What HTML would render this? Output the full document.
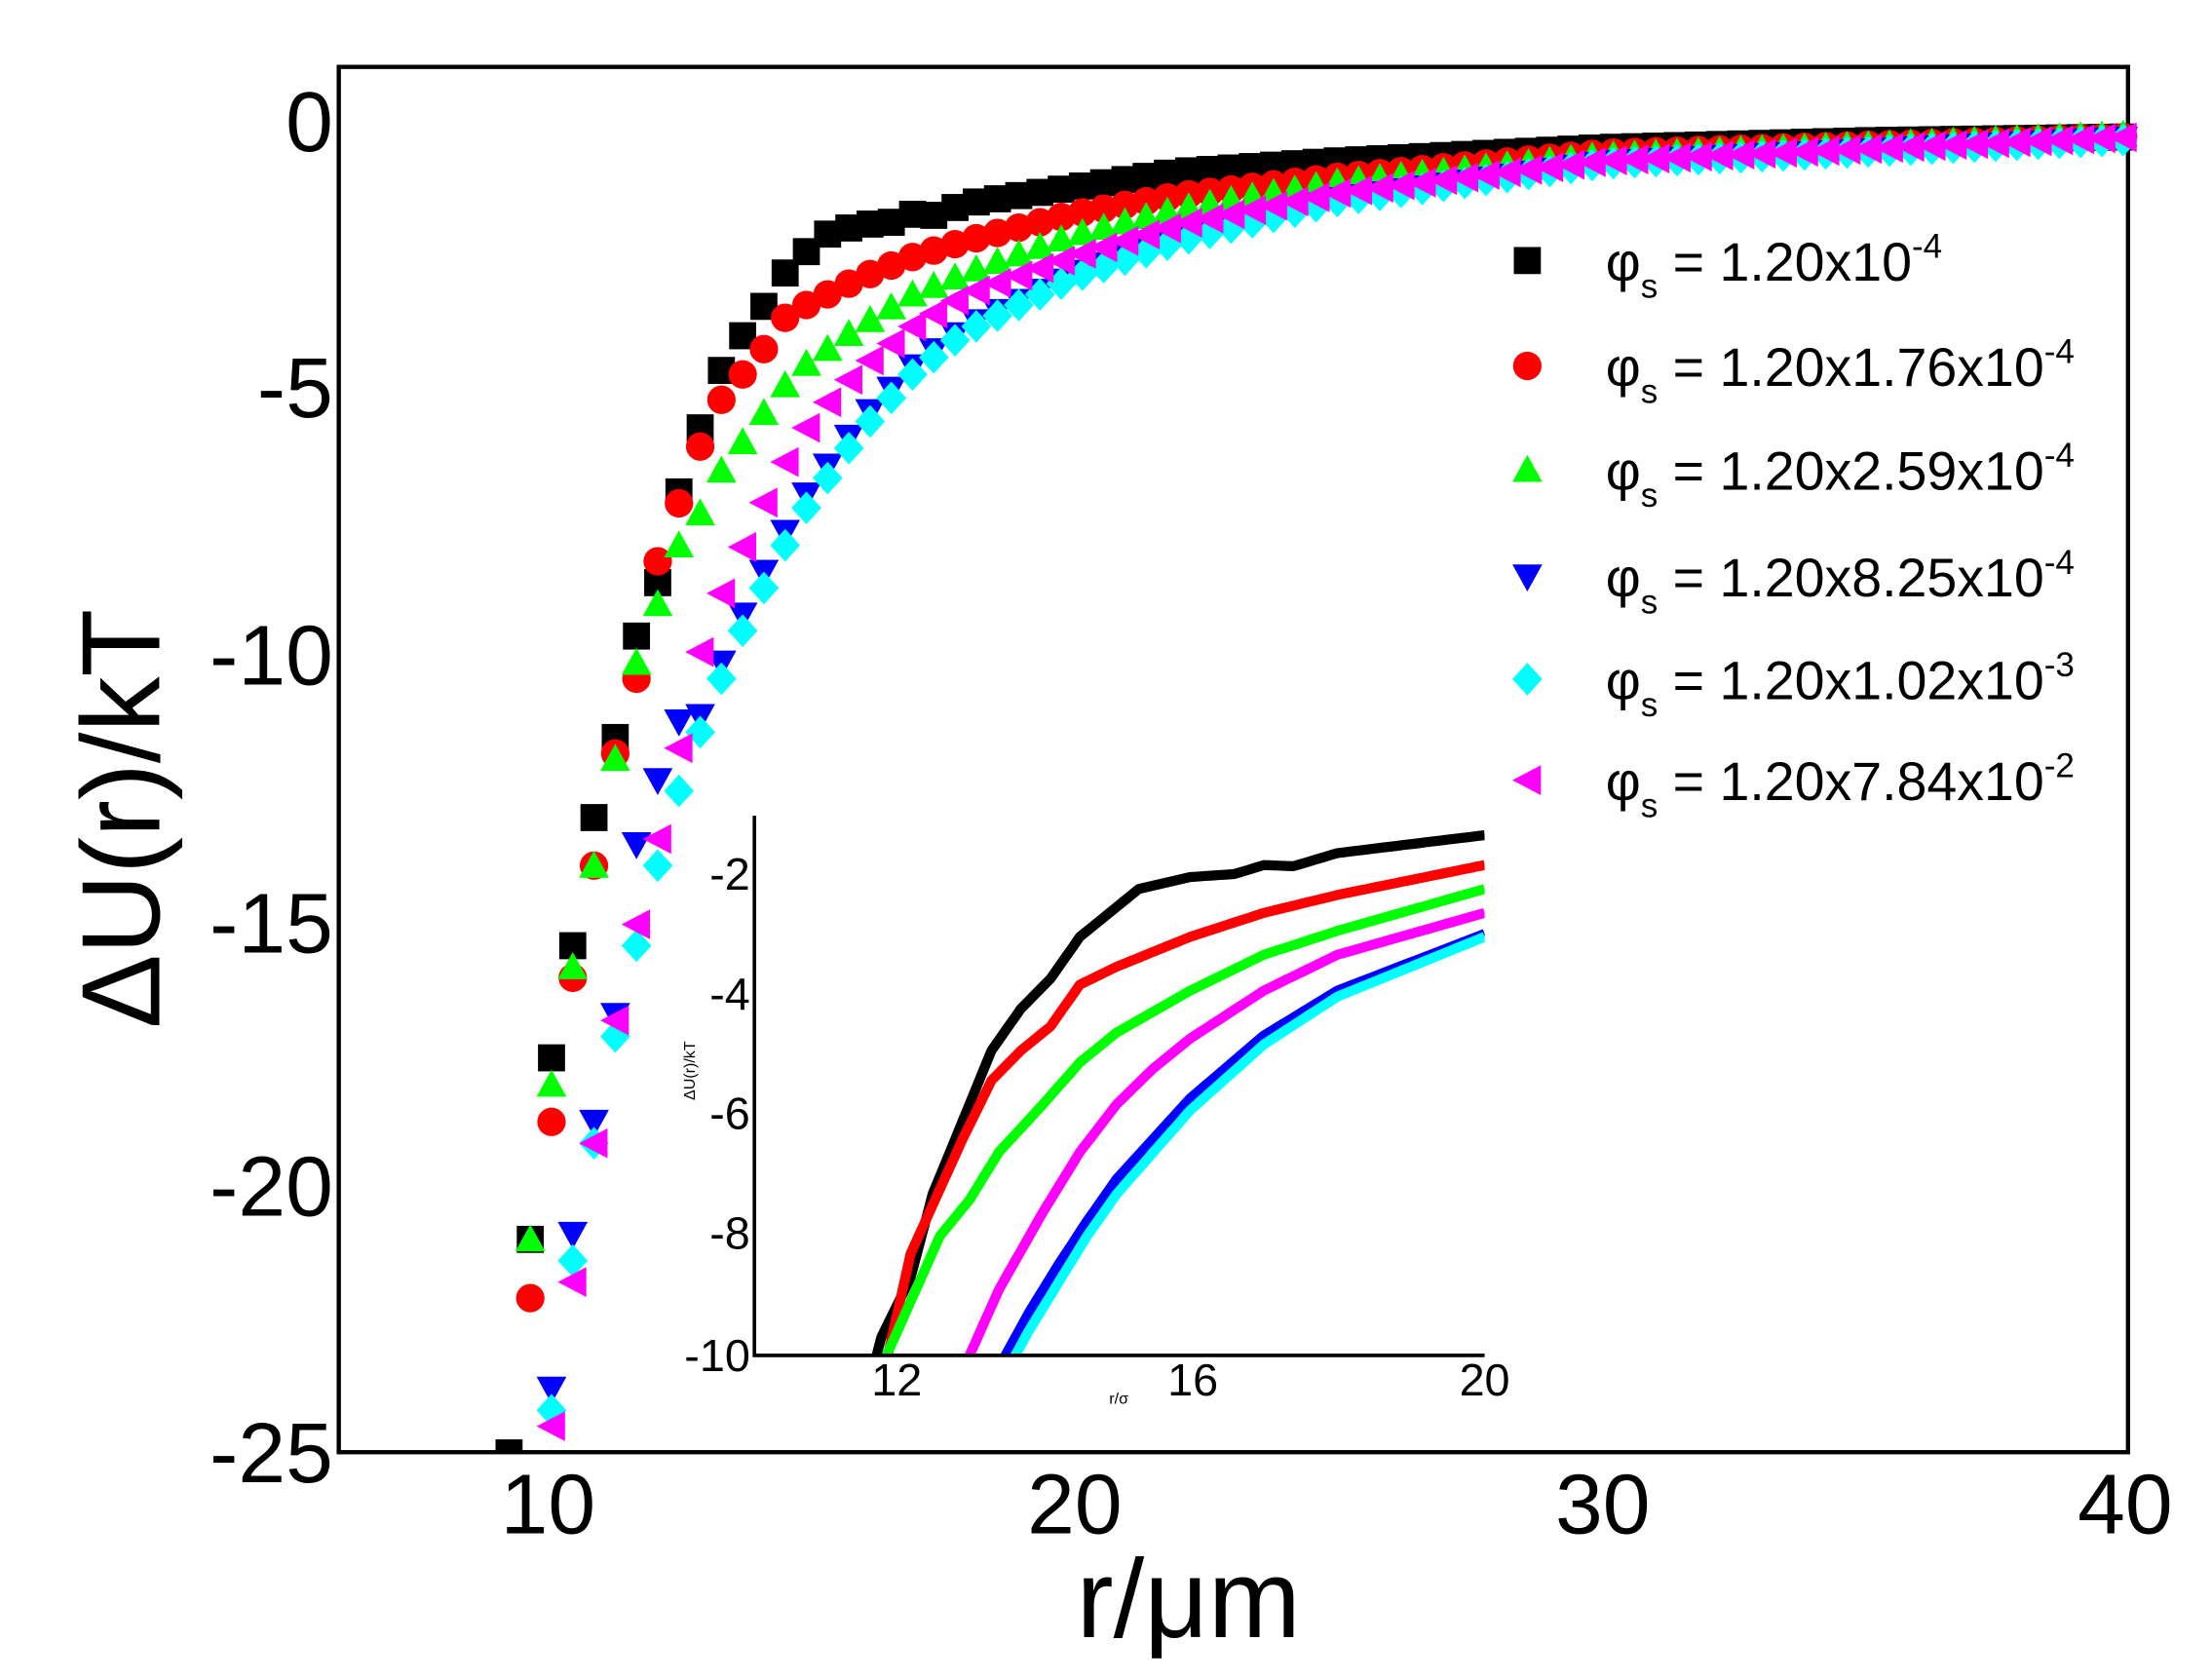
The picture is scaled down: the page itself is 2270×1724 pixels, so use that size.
<!DOCTYPE html>
<html><head><meta charset="utf-8"><style>
html,body{margin:0;padding:0;background:#fff;overflow:hidden;width:2270px;height:1724px}
svg{display:block;position:absolute;left:0;top:0}
text{font-family:"Liberation Sans","DejaVu Sans",sans-serif;fill:#000}
</style></head><body>
<svg id="s" width="2270" height="1724" viewBox="0 0 1554 1180" preserveAspectRatio="none" xmlns="http://www.w3.org/2000/svg">
<defs>
<clipPath id="ci"><rect x="530" y="565" width="513" height="387"/></clipPath>
<clipPath id="cm"><rect x="238" y="47" width="1275" height="973"/></clipPath>
</defs>
<rect x="238" y="47" width="1257" height="973" fill="none" stroke="#000" stroke-width="3"/>
<g font-size="60" text-anchor="end">
<text x="234" y="106">0</text><text x="234" y="293">-5</text><text x="234" y="481">-10</text>
<text x="234" y="669">-15</text><text x="234" y="854">-20</text><text x="234" y="1041">-25</text>
</g>
<g font-size="60" text-anchor="middle">
<text x="385" y="1077">10</text><text x="755" y="1077">20</text><text x="1126" y="1077">30</text><text x="1493" y="1077">40</text>
</g>
<text x="835" y="1150" font-size="78" text-anchor="middle">r/μm</text>
<text transform="translate(112,575) rotate(-90)" font-size="78" text-anchor="middle">ΔU(r)/kT</text>
<g id="main" clip-path="url(#cm)"></g>
<g id="inset"></g>
<g font-size="38" id="leg"></g>
</svg>
<script>
var S={
k:[[9.4,-25],[9.8,-21],[10.2,-17.6],[10.6,-15.5],[11,-13.1],[11.4,-11.6],[11.8,-9.7],[12.2,-8.7],[12.5,-7.3],[12.9,-6.1],[13.3,-4.9],[13.7,-4.2],[14.1,-3.7],[14.5,-3.0],[14.9,-2.6],[15.3,-2.2],[16,-2.0],[16.6,-1.95],[17,-1.8],[17.4,-1.82],[18,-1.6],[19,-1.45],[20,-1.3],[22,-1.0],[25,-0.8],[30,-0.55],[35,-0.42],[40,-0.35]],
r:[[9.8,-22.1],[10.2,-18.8],[10.6,-16.1],[11,-14.0],[11.4,-11.9],[11.8,-10.5],[12.2,-8.3],[12.9,-6.4],[13.3,-5.4],[13.7,-4.9],[14.1,-4.5],[14.5,-3.8],[15,-3.5],[16,-3.0],[17,-2.6],[18,-2.3],[20,-1.8],[22,-1.45],[25,-1.1],[30,-0.65],[40,-0.35]],
g:[[9.8,-21],[10.2,-18.1],[10.6,-15.9],[11,-14.0],[11.4,-12.0],[11.8,-10.2],[12.2,-9.1],[12.6,-8.0],[13,-7.4],[13.4,-6.6],[14,-5.8],[14.5,-5.1],[15,-4.6],[16,-3.9],[17,-3.3],[18,-2.9],[20,-2.2],[22,-1.7],[25,-1.2],[30,-0.7],[40,-0.3]],
b:[[10.2,-23.8],[10.6,-20.9],[11,-18.8],[11.4,-16.8],[11.8,-13.6],[12.2,-12.4],[12.6,-11.3],[13,-11.2],[13.4,-10.2],[13.8,-9.3],[14.2,-8.5],[14.6,-7.75],[15,-7.05],[16,-5.7],[17,-4.65],[18,-3.9],[20,-2.95],[22,-2.25],[25,-1.52],[30,-0.83],[40,-0.38]],
c:[[10.2,-24.2],[10.6,-21.4],[11,-19.2],[11.4,-17.2],[11.8,-15.5],[12.2,-14.0],[12.6,-12.6],[13,-11.5],[13.4,-10.5],[13.8,-9.6],[14.2,-8.8],[14.6,-8.0],[15,-7.3],[16,-5.9],[17,-4.8],[18,-4.0],[20,-3.0],[22,-2.3],[25,-1.55],[30,-0.85],[40,-0.4]],
m:[[10.2,-24.5],[10.6,-21.8],[11,-19.2],[11.4,-16.9],[11.8,-15.1],[12.2,-13.5],[12.6,-11.8],[13,-10.0],[13.4,-8.9],[14,-7.6],[14.5,-6.6],[15,-5.8],[15.5,-5.2],[16,-4.7],[17,-3.9],[18,-3.3],[20,-2.6],[22,-2.0],[25,-1.4],[30,-0.8],[40,-0.35]]};
var col={k:"#000",r:"#f00",g:"#0f0",b:"#00f",c:"#0ff",m:"#f0f"};
function f(p,r){if(r<p[0][0]){var t=(r-p[0][0])/(p[1][0]-p[0][0]);return p[0][1]+t*(p[1][1]-p[0][1]);}for(var i=0;i<p.length-1;i++){if(r<=p[i+1][0]){var t=(r-p[i][0])/(p[i+1][0]-p[i][0]);return p[i][1]+t*(p[i+1][1]-p[i][1]);}}return p[p.length-1][1];}
var NS="http://www.w3.org/2000/svg";
function el(n,a,par){var e=document.createElementNS(NS,n);for(var k in a)e.setAttribute(k,a[k]);par.appendChild(e);return e;}
function mk(t,x,y,par){var h=9.5;var c=col[t];
 if(t=="k")el("rect",{x:x-h,y:y-h,width:2*h,height:2*h,fill:c},par);
 else if(t=="r")el("circle",{cx:x,cy:y,r:h+0.5,fill:c},par);
 else if(t=="g")el("polygon",{points:[x,y-h-1,x+h+1,y+h-1,x-h-1,y+h-1].join(" "),fill:c},par);
 else if(t=="b")el("polygon",{points:[x-h-1,y-h+1,x+h+1,y-h+1,x,y+h+1].join(" "),fill:c},par);
 else if(t=="c")el("polygon",{points:[x,y-h-2,x+h+1,y,x,y+h+2,x-h-1,y].join(" "),fill:c},par);
 else el("polygon",{points:[x-h-1,y,x+h,y-h-1,x+h,y+h+1].join(" "),fill:c},par);}
var main=document.getElementById("main"),ins=document.getElementById("inset");
function X(r){return 380+(r-10)*37.3;}function Y(u){return 83-u*37.5;}
["k","r","g","b","c","m"].forEach(function(t){var p=S[t];
 for(var r=p[0][0];r<=40.05;r+=0.4){mk(t,X(r),Y(f(p,r)),main);}});
var gi=el("g",{"clip-path":"url(#ci)"},ins);
function XI(r){return 526+(r-10)*51.7;}function YI(u){return 952-(u+10)*42;}
["k","r","g","m","b","c"].forEach(function(t){var p=S[t],pts=[];
 for(var r=10;r<=20.01;r+=0.1)pts.push(XI(r).toFixed(1)+","+YI(f(p,r)).toFixed(1));
 el("polyline",{points:pts.join(" "),fill:"none",stroke:col[t],"stroke-width":7,"stroke-linejoin":"round"},gi);});
el("path",{d:"M530,573 V952 H1043",fill:"none",stroke:"#000","stroke-width":2.5},ins);
[["-2",614],["-4",698],["-6",782],["-8",866],["-10",952]].forEach(function(a){var e=el("text",{x:527,y:a[1]+11,"font-size":32,"text-anchor":"end"},ins);e.textContent=a[0];});
[["12",630],["16",838],["20",1043]].forEach(function(a){var e=el("text",{x:a[1],y:980,"font-size":32,"text-anchor":"middle"},ins);e.textContent=a[0];});
var e=el("text",{x:786,y:986,"font-size":11,"text-anchor":"middle"},ins);e.textContent="r/σ";
e=el("text",{transform:"translate(488,752) rotate(-90)","font-size":11,"text-anchor":"middle"},ins);e.textContent="ΔU(r)/kT";
var leg=document.getElementById("leg");
var L=[["k",183,"1.20x10","-4"],["r",257,"1.20x1.76x10","-4"],["g",330,"1.20x2.59x10","-4"],["b",405,"1.20x8.25x10","-4"],["c",477,"1.20x1.02x10","-3"],["m",548,"1.20x7.84x10","-2"]];
L.forEach(function(a){mk(a[0],1073,a[1],leg);
 var t=el("text",{x:1128,y:a[1]+14},leg);
 var s1=document.createElementNS(NS,"tspan");s1.textContent="φ";t.appendChild(s1);
 var s2=document.createElementNS(NS,"tspan");s2.setAttribute("font-size","24");s2.setAttribute("dy","12");s2.textContent="s";t.appendChild(s2);
 var s3=document.createElementNS(NS,"tspan");s3.setAttribute("dy","-12");s3.textContent=" = "+a[2];t.appendChild(s3);
 var s4=document.createElementNS(NS,"tspan");s4.setAttribute("font-size","24");s4.setAttribute("dy","-16");s4.textContent=a[3];t.appendChild(s4);});
</script>
</body></html>
